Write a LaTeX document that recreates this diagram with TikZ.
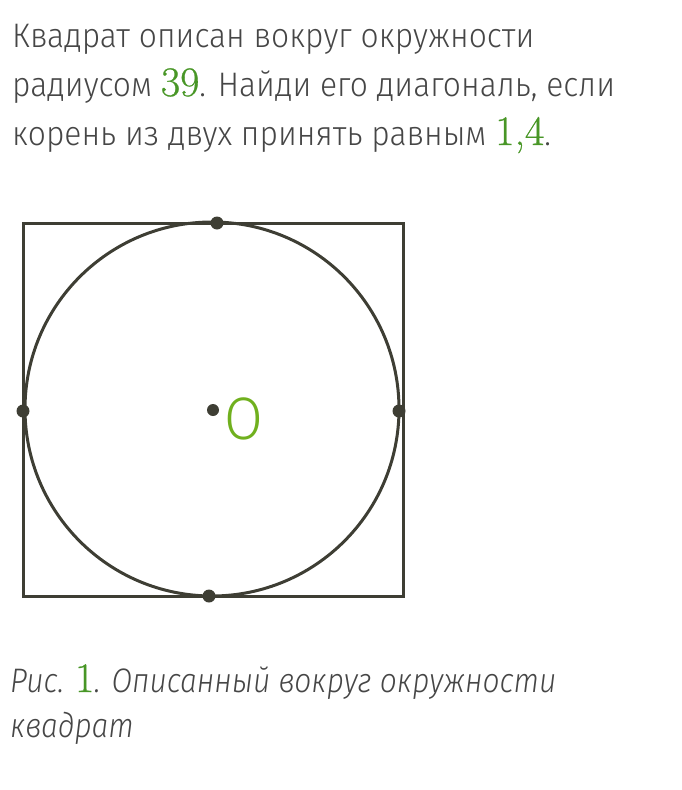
\documentclass[tikz,border=0pt]{standalone}
\usepackage{fontspec}
\setmainfont{Fira Sans}[UprightFont=* Light, ItalicFont=* Light Italic,
  UprightFeatures={FakeStretch=0.935}, ItalicFeatures={FakeStretch=0.88}]
\newfontfamily\numfont{Latin Modern Roman}[FakeBold=0.6]
\definecolor{textgray}{RGB}{70, 70, 70}
\definecolor{numgreen}{RGB}{72, 150, 38}
\definecolor{labelgreen}{RGB}{112, 176, 30}
\definecolor{linegray}{RGB}{62, 62, 52}
\newcommand{\greennum}[1]{{\color{numgreen}\numfont\upshape\fontsize{42}{49}\selectfont#1}}

\begin{document}
\begin{tikzpicture}[x=1pt, y=-1pt,
  dot/.style={circle, fill=linegray, inner sep=0pt, minimum size=13pt},
  tasktext/.style={anchor=base west, inner sep=0pt, text=textgray, font=\fontsize{34}{49}\selectfont},
  captext/.style={tasktext, font=\itshape\fontsize{34}{46}\selectfont}]
  \useasboundingbox (0,0) rectangle (682,790);

  % Task
  \node[tasktext] (task1) at (12,47) {Квадрат описан вокруг окружности};
  \node[tasktext] (task2) at (12,96) {радиусом \greennum{39}. Найди его диагональ, если};
  \node[tasktext] (task3) at (12,145) {корень из двух принять равным \greennum{1,4}.};

  % Square and circle
  \draw[linegray, line width=3pt] (23,223) rectangle (403,596);
  \coordinate (O) at (212,409);
  \draw[linegray, line width=3pt] (O) circle (187pt);

  % Points
  \node[dot] (ptop) at (217,223) {};
  \node[dot] (pbot) at (209,596) {};
  \node[dot] (pleft) at (23,411) {};
  \node[dot] (pright) at (399,411) {};
  \node[dot, minimum size=12pt] (pcenter) at (213,410) {};
  \node[text=labelgreen, font=\fontsize{60}{60}\selectfont] (lblO) at (244,419) {O};

  % Caption
  \node[captext] (cap1) at (10,692) {Рис. \greennum{1}. Описанный вокруг окружности};
  \node[captext] (cap2) at (10,737) {квадрат};
\end{tikzpicture}
\end{document}
